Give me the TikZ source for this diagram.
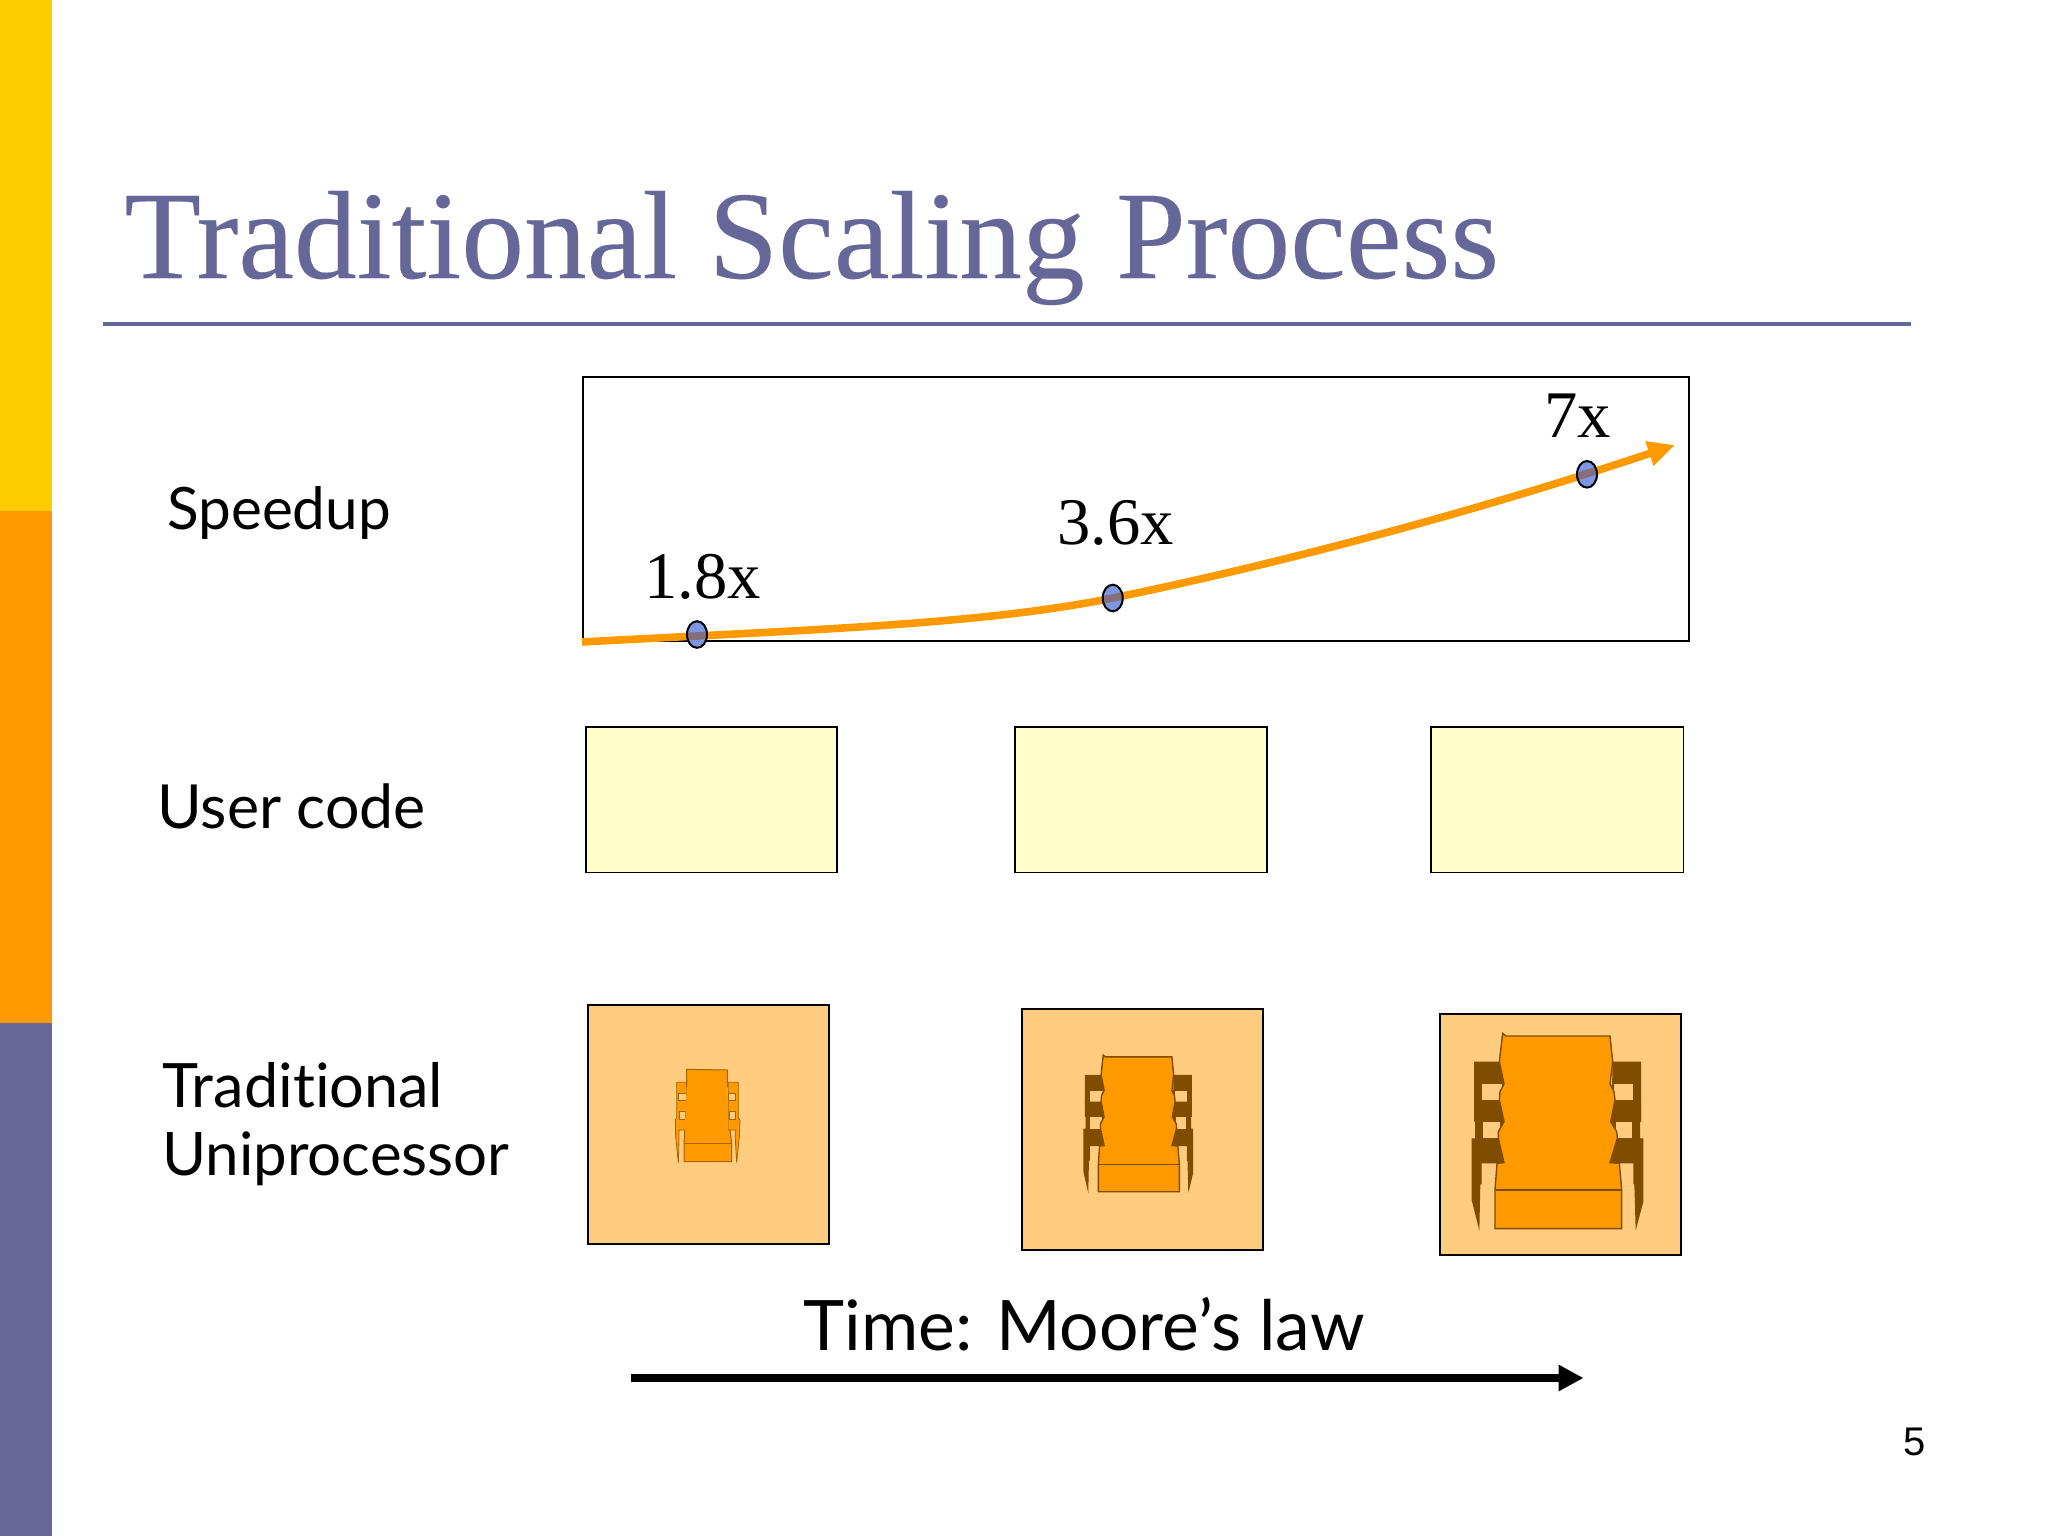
\documentclass[tikz,border=0pt]{standalone}
\usepackage{fontspec}
\setmainfont{Liberation Serif}
\newfontfamily\hand[Ligatures=NoCommon]{Lato}
\newfontfamily\plain{Liberation Sans}
\usetikzlibrary{arrows.meta}
\definecolor{barYellow}{HTML}{FFCC00}
\definecolor{barOrange}{HTML}{FF9900}
\definecolor{barPurple}{HTML}{666699}
\definecolor{codeFill}{HTML}{FFFFCC}
\definecolor{cpuBack}{HTML}{FFCC80}
\definecolor{pinDark}{HTML}{7F4D00}
\definecolor{dotBlue}{HTML}{7F97E2}
\definecolor{dotBand}{HTML}{85707A}
\tikzset{
  lbl/.style={anchor=base west,inner sep=0pt,font=\hand\fontsize{#1}{#1}\selectfont},
  num/.style={anchor=base west,inner sep=0pt,font=\fontsize{33.3}{33.3}\selectfont},
  framebox/.style={draw=black,line width=1pt},
  codebox/.style={draw=black,line width=0.9pt,fill=codeFill},
  cpubox/.style={draw=black,line width=1pt,fill=cpuBack},
  body/.style={fill=barOrange,draw=pinDark,line width=0.7pt,line join=miter},
  speedcurve/.style={line width=3.8pt},
}
\newcommand{\chipshape}{%
  \fill[pinDark] (162,185)--(237,185)--(252,252)--(252,365)--(252,490)--(185,490)--(185,553)--(181,553)--(178,692)--(155,600)--(155,415)--(165,415)--(165,365)--(162,365)--cycle;
  \fill[pinDark] (578,185)--(663,185)--(663,365)--(660,365)--(660,415)--(670,415)--(670,605)--(647,692)--(643,553)--(640,553)--(640,490)--(570,490)--cycle;
  \fill[cpuBack] (185,253) rectangle (245,300);
  \fill[cpuBack] (188,367) rectangle (240,415);
  \fill[cpuBack] (583,253) rectangle (640,300);
  \fill[cpuBack] (588,367) rectangle (637,415);
  \fill[pinDark] (238,300)--(252,365)--(165,365)--(162,300)--cycle;
  \fill[pinDark] (585,300)--(572,365)--(663,365)--(663,300)--cycle;
  \draw[body] (248,100)--(258,108)--(570,108)--(578,185)--(570,252)--(582,275)--(585,300)--(572,365)--(590,395)--(592,415)--(570,488)--(598,490)--(605,570)--(605,686)--(225,686)--(225,570)--(231,490)--(252,488)--(235,415)--(235,395)--(252,365)--(238,300)--(240,275)--(252,252)--(238,185)--cycle;
  \draw[body,fill=none] (225,570)--(605,570);
}
\begin{document}
\begin{tikzpicture}[x=0.5pt,y=-0.5pt]
\useasboundingbox (0,0) rectangle (2048,1536);
\fill[white] (0,0) rectangle (2048,1536);
\fill[barYellow] (0,0) rectangle (52,511);
\fill[barOrange] (0,511) rectangle (52,1023);
\fill[barPurple] (0,1023) rectangle (52,1536);
\node[anchor=base west,inner sep=0pt,text=barPurple,font=\addfontfeature{FakeBold=0.2}\fontsize{62.7}{62.7}\selectfont] (title) at (124,278) {Traditional Scaling Process};
\coordinate (ruleL) at (103,324);
\coordinate (ruleR) at (1911,324);
\draw[barPurple,line width=1.9pt] (ruleL)--(ruleR);
\node[lbl=29.2] (speedup) at (167,529) {Speedup};
\node[lbl=30.4] (usercode) at (157,828) {User code};
\node[lbl=30.6] (trad) at (162,1107) {Traditional};
\node[lbl=30] (uni) at (162,1175) {Uniprocessor};
\draw[framebox] (582.7,377) rectangle (1688.7,641);
\coordinate (curveA) at (582,642);
\coordinate (curveB) at (1675,445);
\coordinate (dotOne) at (697,634.5);
\coordinate (dotTwo) at (1112.7,598);
\coordinate (dotThree) at (1587,474.3);
\draw[barOrange,speedcurve,-{Triangle[length=13.5pt,width=12pt]}] (curveA) .. controls (800,630) and (980,625) .. (dotTwo) .. controls (1250,570) and (1450,520) .. (curveB);
\foreach \c in {dotOne,dotTwo,dotThree}{
  \fill[dotBlue] (\c) ellipse [x radius=10,y radius=13.3];
  \begin{scope}
    \clip (\c) ellipse [x radius=10,y radius=13.3];
    \draw[dotBand,speedcurve] (curveA) .. controls (800,630) and (980,625) .. (dotTwo) .. controls (1250,570) and (1450,520) .. (curveB);
  \end{scope}
  \draw[black,line width=1pt] (\c) ellipse [x radius=10,y radius=13.3];
}
\node[num] (n1) at (644,598) {1.8x};
\node[num] (n2) at (1057,544) {3.6x};
\node[num] (n3) at (1544,437) {7x};
\draw[codebox] (586,727) rectangle (837,872.5);
\draw[codebox] (1015,727) rectangle (1267,872.5);
\draw[codebox] (1431,727) rectangle (1683.5,872.5);
\draw[cpubox] (588.3,1004.7) rectangle (829.3,1244.3);
\draw[cpubox] (1022.3,1009) rectangle (1263.3,1250);
\draw[cpubox] (1440,1014) rectangle (1680.7,1255);
\begin{scope}[shift={(580,1000)},scale=1/3]
  \draw[barOrange,fill=barOrange,draw=pinDark!70!barOrange,line width=0.4pt]
    (290,247)--(320,247)--(320,390)--(297,390)--(297,420)--(295,488)--(287,410)--(286,360)--(290,355)--cycle;
  \draw[barOrange,fill=barOrange,draw=pinDark!70!barOrange,line width=0.4pt]
    (445,247)--(475,247)--(475,355)--(480,360)--(478,410)--(470,488)--(466,420)--(466,390)--(445,390)--cycle;
  \draw[fill=cpuBack,draw=pinDark!70!barOrange,line width=0.4pt] (296,280) rectangle (318,302);
  \draw[fill=cpuBack,draw=pinDark!70!barOrange,line width=0.4pt] (297,333) rectangle (316,357);
  \draw[fill=cpuBack,draw=pinDark!70!barOrange,line width=0.4pt] (446,280) rectangle (467,302);
  \draw[fill=cpuBack,draw=pinDark!70!barOrange,line width=0.4pt] (449,333) rectangle (467,357);
  \fill[barOrange] (320,208)--(442,210)--(442,262)--(445,390)--(450,390)--(455,430)--(455,485)--(312,485)--(312,430)--(314,390)--(320,262)--cycle;
  \draw[draw=pinDark!70!barOrange,line width=0.5pt] (320,262)--(320,208)--(442,210)--(442,262) (445,390)--(450,390)--(455,430)--(455,485)--(312,485)--(312,430)--(314,390);
  \draw[draw=pinDark!70!barOrange,line width=0.5pt] (312,430)--(455,430);
\end{scope}
\begin{scope}[shift={(1138.3,1055)},xscale=0.2133,yscale=0.2333,shift={(-412.5,-100)}]
  \chipshape
\end{scope}
\begin{scope}[shift={(1420,1000)},scale=1/3]
  \chipshape
\end{scope}
\node[lbl=34.8] (time) at (803,1350) {Time: Moore’s law};
\coordinate (timeA) at (631,1378);
\coordinate (timeB) at (1583.5,1378);
\draw[black,line width=4pt,-{Triangle[length=12.5pt,width=12.5pt]}] (timeA)--(timeB);
\node[anchor=base west,inner sep=0pt,font=\plain\fontsize{20}{20}\selectfont] (page) at (1903,1455) {5};
\end{tikzpicture}
\end{document}
